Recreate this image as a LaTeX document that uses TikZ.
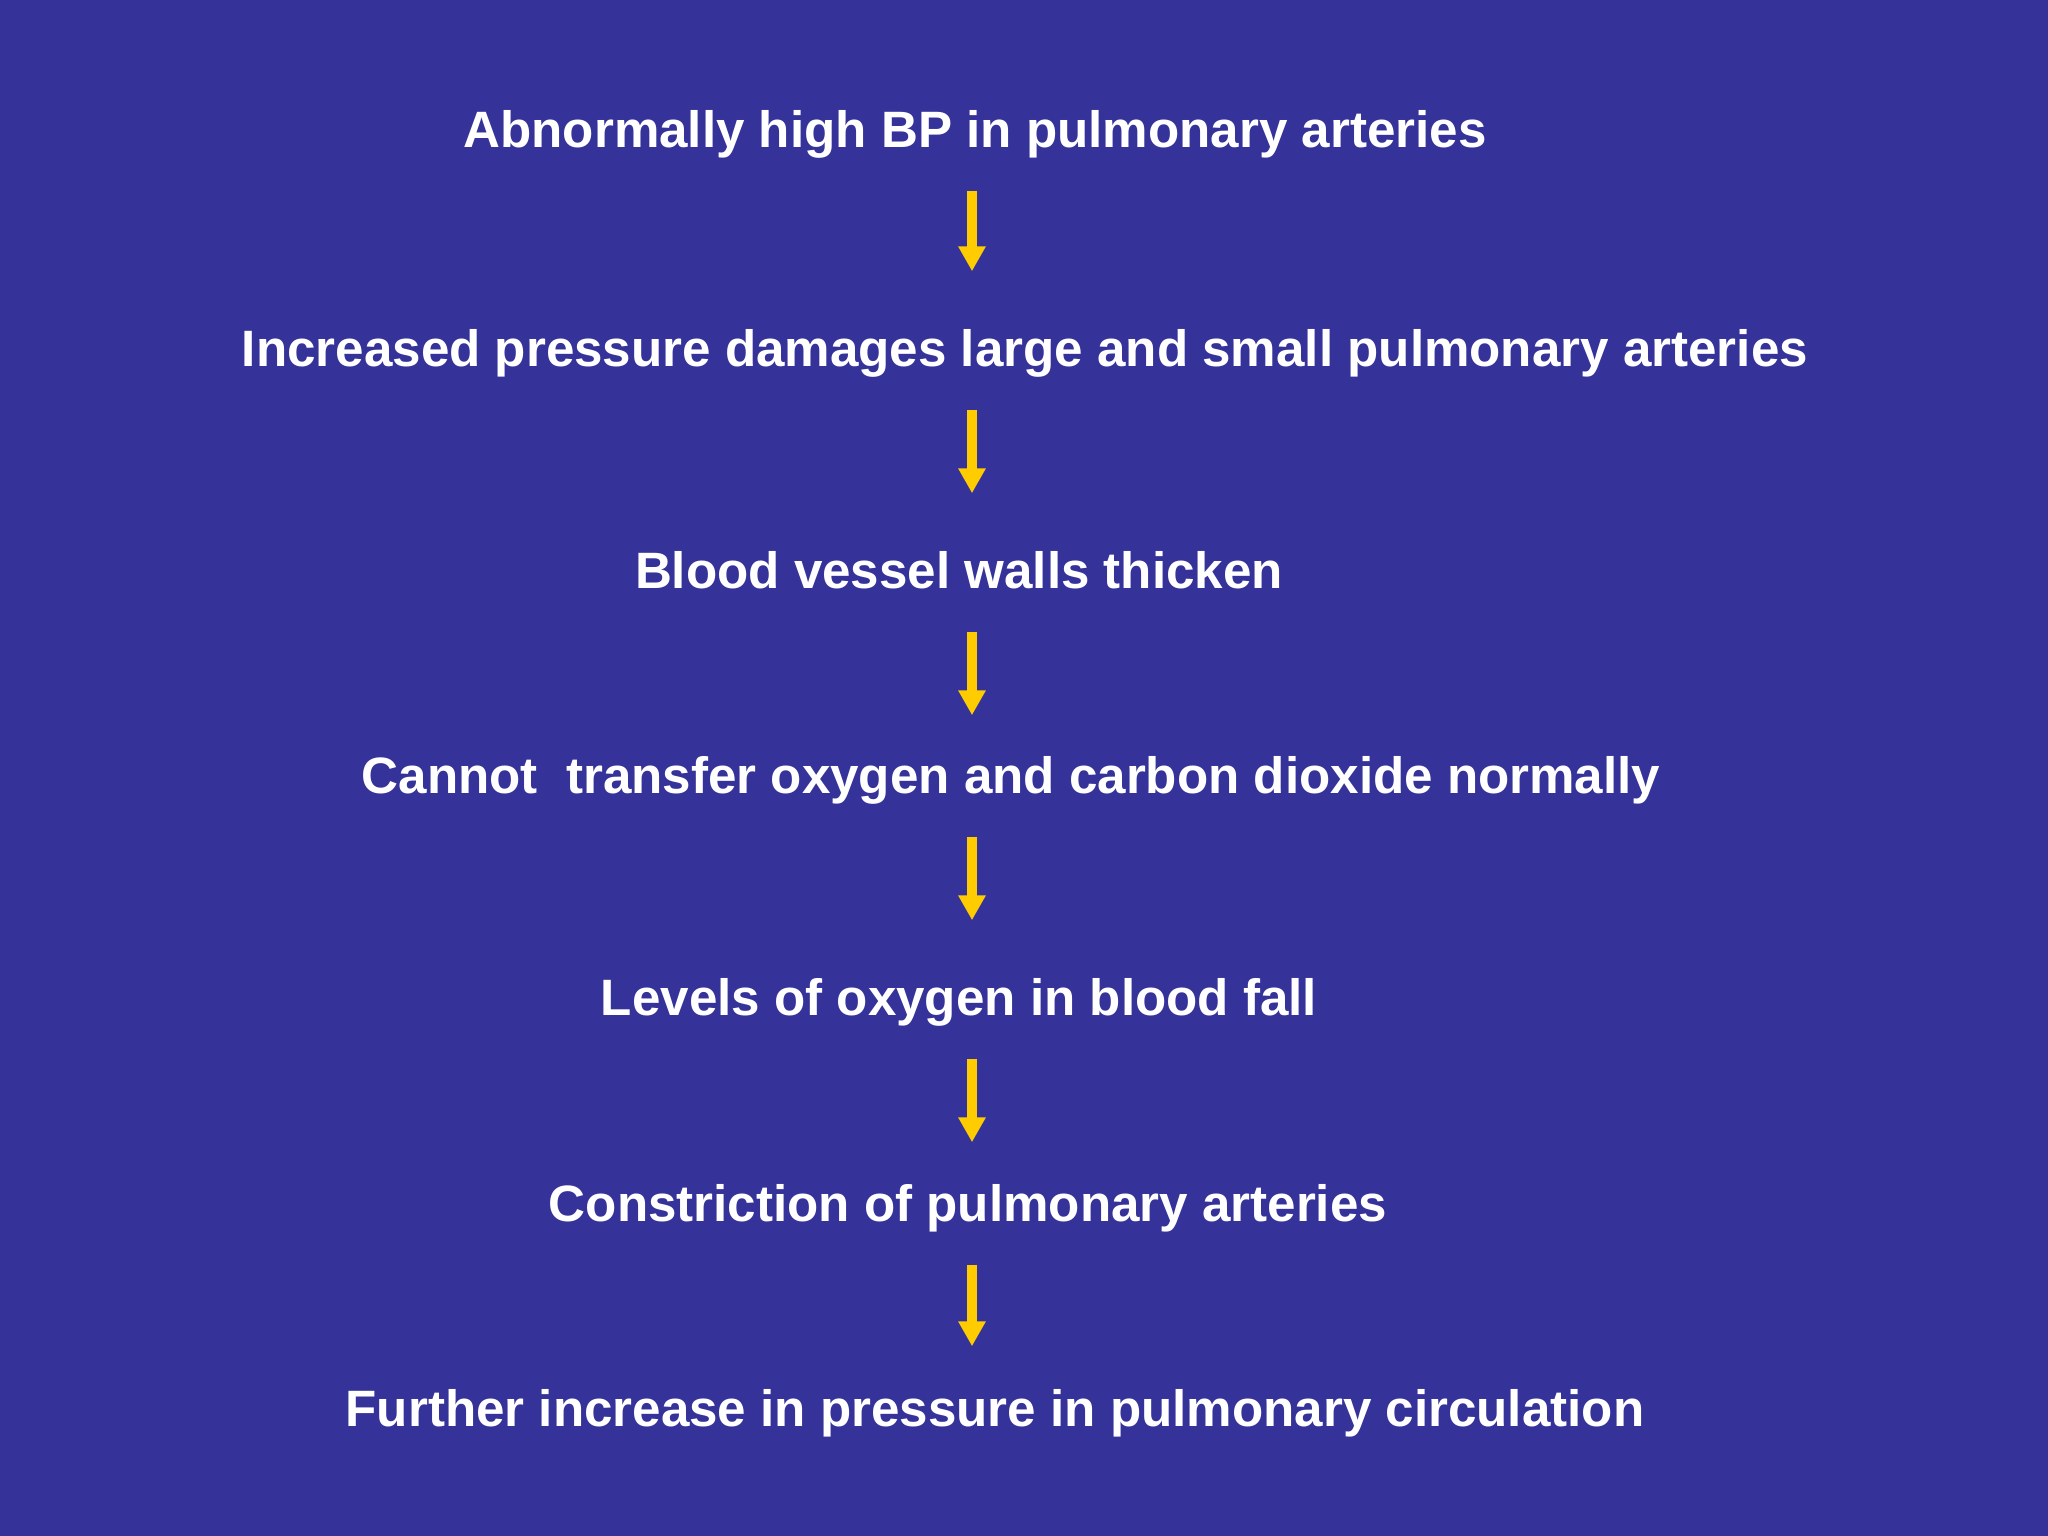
\documentclass[tikz,border=0pt]{standalone}
\usepackage{fontspec}
\setmainfont{Liberation Sans}
\usetikzlibrary{arrows.meta}
\definecolor{slideblue}{HTML}{35339A}
\definecolor{arrowyellow}{HTML}{FFCC00}

\begin{document}
\begin{tikzpicture}[>={Triangle[width=2.6mm,length=2.5mm]},
        step text/.style={anchor=base, inner sep=0pt, text=white,
            font=\fontsize{14.55}{17}\selectfont\bfseries,
            text height=0.36cm, text depth=0.1cm},
        flow/.style={->, draw=arrowyellow, line width=1mm,
            shorten <=0.32cm, shorten >=0.59cm}]
        \fill[slideblue] (0,0) rectangle (20.48,15.36);
        \coordinate (axis) at (9.72,0);
        \node[step text] (high) at (9.75,13.88) {Abnormally high BP in pulmonary arteries};
        \node[step text] (damage) at (10.25,11.69) {Increased pressure damages large and small pulmonary arteries};
        \node[step text] (walls) at (9.59,9.47) {Blood vessel walls thicken};
        \node[step text] (transfer) at (10.11,7.42) {Cannot\ \ transfer oxygen and carbon dioxide normally};
        \node[step text] (oxygen) at (9.59,5.20) {Levels of oxygen in blood fall};
        \node[step text] (constrict) at (9.68,3.14) {Constriction of pulmonary arteries};
        \node[step text] (further) at (9.95,1.09) {Further increase in pressure in pulmonary circulation};
        \draw[flow] (high.south -| axis) -- (damage.north -| axis);
        \draw[flow] (damage.south -| axis) -- (walls.north -| axis);
        \draw[flow, shorten >=0.42cm] (walls.south -| axis) -- (transfer.north -| axis);
        \draw[flow] (transfer.south -| axis) -- (oxygen.north -| axis);
        \draw[flow, shorten >=0.43cm] (oxygen.south -| axis) -- (constrict.north -| axis);
        \draw[flow, shorten >=0.44cm] (constrict.south -| axis) -- (further.north -| axis);
\end{tikzpicture}
\end{document}
